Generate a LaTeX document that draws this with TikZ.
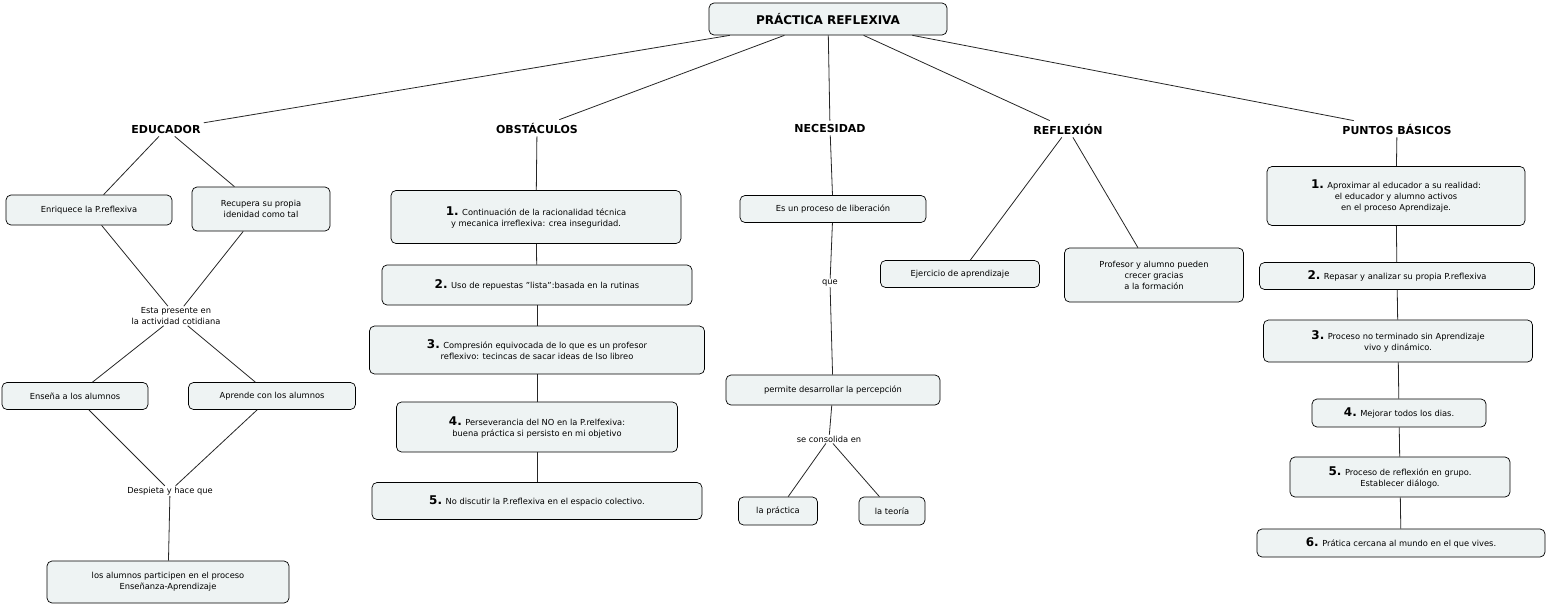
\documentclass[tikz,border=0pt]{standalone}
\usepackage{fontspec}
\setmainfont{DejaVu Sans}
\begin{document}
\begin{tikzpicture}[x=1pt,y=-1pt,
  box/.style={draw=black,fill=boxfill,rounded corners=5pt,align=center,font=\fontsize{8.3}{11}\selectfont,inner sep=2pt,line width=0.7pt},
  lbl/.style={align=center,font=\fontsize{8.3}{11}\selectfont,inner sep=1pt},
  head/.style={font=\bfseries\fontsize{11}{13}\selectfont,inner sep=3pt},
  ln/.style={draw=black!85,line width=0.8pt}]
\definecolor{boxfill}{HTML}{EEF3F3}
\useasboundingbox (0,0) rectangle (1547,605);
\node[box,head,minimum width=238,minimum height=32,font=\bfseries\fontsize{12}{14}\selectfont] (t) at (828,19) {PRÁCTICA REFLEXIVA};
\node[head] (edu) at (166,129) {EDUCADOR};
\node[head] (obs) at (537,128) {OBSTÁCULOS};
\node[head] (nec) at (830,128) {NECESIDAD};
\node[head] (ref) at (1068,129) {REFLEXIÓN};
\node[head] (pun) at (1397,129) {PUNTOS BÁSICOS};
\foreach \n in {edu,obs,nec,ref,pun} \draw[ln] (t) -- (\n);
% educador
\node[box,minimum width=166,minimum height=30] (a1) at (89,210) {Enriquece la P.reflexiva};
\node[box,minimum width=138,minimum height=44] (a2) at (261,209) {Recupera su propia\\idenidad como tal};
\node[lbl] (e1) at (176,316) {Esta presente en\\la actividad cotidiana};
\node[box,minimum width=146,minimum height=27] (a3) at (75,396) {Enseña a los alumnos};
\node[box,minimum width=167,minimum height=27] (a4) at (272,396) {Aprende con los alumnos};
\node[lbl] (e2) at (170,491) {Despieta y hace que};
\node[box,minimum width=242,minimum height=42] (a5) at (168,582) {los alumnos participen en el proceso\\Enseñanza-Aprendizaje};
\draw[ln] (edu) -- (a1); \draw[ln] (edu) -- (a2);
\draw[ln] (a1) -- (e1); \draw[ln] (a2) -- (e1);
\draw[ln] (e1) -- (a3); \draw[ln] (e1) -- (a4);
\draw[ln] (a3) -- (e2); \draw[ln] (a4) -- (e2);
\draw[ln] (e2) -- (a5);
% obstaculos
\node[box,minimum width=290,minimum height=53] (o1) at (536,217) {\textbf{\large 1.} Continuación de la racionalidad técnica\\y mecanica irreflexiva: crea inseguridad.};
\node[box,minimum width=310,minimum height=40] (o2) at (537,285) {\textbf{\large 2.} Uso de repuestas "lista":basada en la rutinas};
\node[box,minimum width=335,minimum height=48] (o3) at (537,350) {\textbf{\large 3.} Compresión equivocada de lo que es un profesor\\reflexivo: tecincas de sacar ideas de lso libreo};
\node[box,minimum width=281,minimum height=50] (o4) at (537,427) {\textbf{\large 4.} Perseverancia del NO en la P.relfexiva:\\buena práctica si persisto en mi objetivo};
\node[box,minimum width=330,minimum height=37] (o5) at (537,501) {\textbf{\large 5.} No discutir la P.reflexiva en el espacio colectivo.};
\draw[ln] (obs) -- (o1); \draw[ln] (o1) -- (o2); \draw[ln] (o2) -- (o3); \draw[ln] (o3) -- (o4); \draw[ln] (o4) -- (o5);
% necesidad
\node[box,minimum width=186,minimum height=27] (n1) at (833,209) {Es un proceso de liberación};
\node[lbl] (q) at (830,283) {que};
\node[box,minimum width=214,minimum height=30] (n2) at (833,390) {permite desarrollar la percepción};
\node[lbl] (sc) at (829,439) {se consolida en};
\node[box,minimum width=79,minimum height=28] (n3) at (778,511) {la práctica};
\node[box,minimum width=66,minimum height=28] (n4) at (892,511) {la teoría};
\draw[ln] (nec) -- (n1); \draw[ln] (n1) -- (q); \draw[ln] (q) -- (n2); \draw[ln] (n2) -- (sc);
\draw[ln] (sc) -- (n3); \draw[ln] (sc) -- (n4);
% reflexion
\node[box,minimum width=159,minimum height=27] (r1) at (960,274) {Ejercicio de aprendizaje};
\node[box,minimum width=179,minimum height=54] (r2) at (1154,275) {Profesor y alumno pueden\\crecer gracias\\a la formación};
\draw[ln] (ref) -- (r1); \draw[ln] (ref) -- (r2);
% puntos
\node[box,minimum width=258,minimum height=59] (p1) at (1396,196) {\textbf{\large 1.} Aproximar al educador a su realidad:\\el educador y alumno activos\\en el proceso Aprendizaje.};
\node[box,minimum width=275,minimum height=27] (p2) at (1397,276) {\textbf{\large 2.} Repasar y analizar su propia P.reflexiva};
\node[box,minimum width=269,minimum height=42] (p3) at (1398,341) {\textbf{\large 3.} Proceso no terminado sin Aprendizaje\\vivo y dinámico.};
\node[box,minimum width=174,minimum height=28] (p4) at (1399,413) {\textbf{\large 4.} Mejorar todos los dias.};
\node[box,minimum width=220,minimum height=40] (p5) at (1400,477) {\textbf{\large 5.} Proceso de reflexión en grupo.\\Establecer diálogo.};
\node[box,minimum width=288,minimum height=28] (p6) at (1401,543) {\textbf{\large 6.} Prática cercana al mundo en el que vives.};
\draw[ln] (pun) -- (p1); \draw[ln] (p1) -- (p2); \draw[ln] (p2) -- (p3); \draw[ln] (p3) -- (p4); \draw[ln] (p4) -- (p5); \draw[ln] (p5) -- (p6);
\end{tikzpicture}
\end{document}
